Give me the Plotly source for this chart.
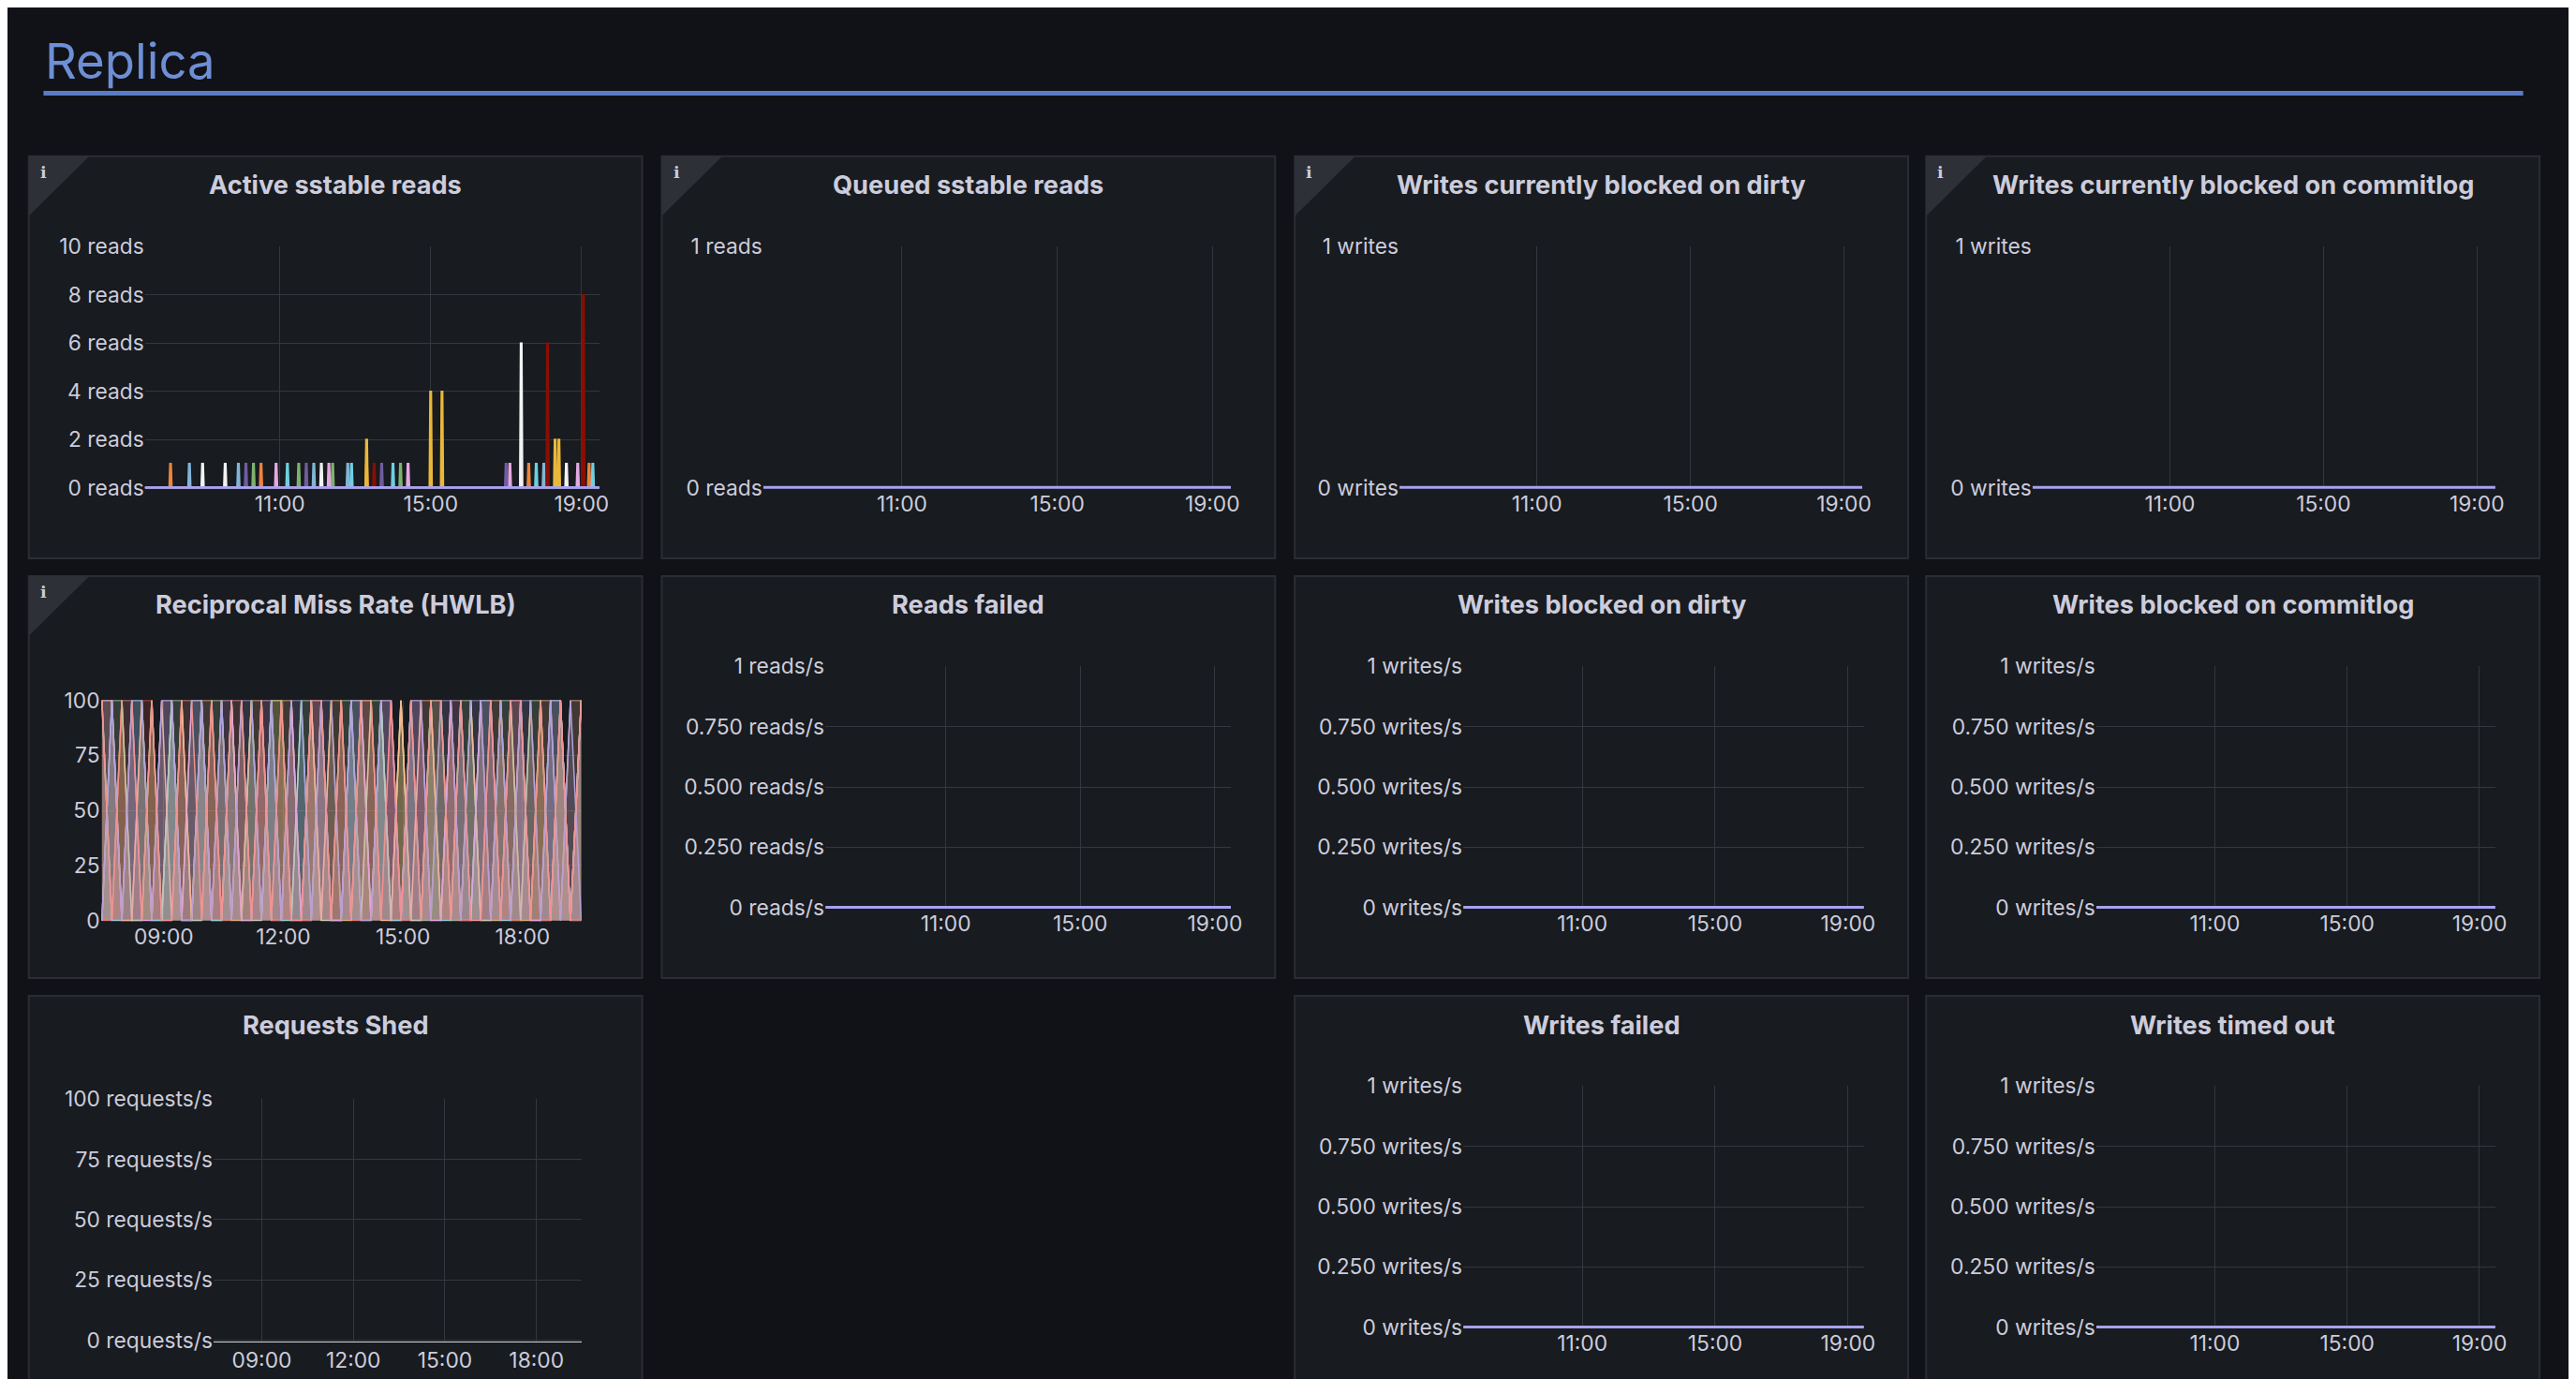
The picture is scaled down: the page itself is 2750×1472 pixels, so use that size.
import plotly.graph_objects as go

# reference layout was read on a 1568 x 839 view, so positions are fractions of that
W, H = 2750, 1472
VW, VH = 1568.0, 839.0
FS = W / VW

BG = "#111217"
PANEL = "#181b1f"
BORDER = "#2a2d33"
GRID = "#34373d"
TXT = "#ccccdc"
FLAT = "#a7a2f0"

T0, T1 = 7.42, 19.48  # hours shown on every panel

# --- data ---
active_series = [
    # (colour, spike times in hours, spike heights)
    ("#EF843C", [8.1, 10.5, 13.3, 17.6, 19.2], [1, 1, 1, 1, 1]),
    ("#82B5D8", [8.6, 9.9, 11.9, 12.8, 18.0], [1, 1, 1, 1, 1]),
    ("#F2F2F2", [8.95, 9.55, 12.1, 17.4, 18.6], [1, 1, 1, 6, 1]),
    ("#EAB839", [13.3, 15.0, 15.3, 18.3, 18.4], [2, 4, 4, 2, 2]),
    ("#890F02", [13.5, 18.1, 19.05], [1, 6, 8]),
    ("#7EB26D", [10.3, 11.5, 12.4, 14.2], [1, 1, 1, 1]),
    ("#E5A8E2", [10.9, 12.3, 14.4, 17.1, 18.9], [1, 1, 1, 1, 1]),
    ("#6ED0E0", [11.2, 12.9, 14.0, 17.8, 19.3], [1, 1, 1, 1, 1]),
    ("#705DA0", [10.1, 11.7, 13.7, 17.0], [1, 1, 1, 1]),
]

miss_times = [7.45, 7.7, 7.95, 8.2, 8.45, 8.7, 8.95, 9.2, 9.45, 9.7, 9.95, 10.2, 10.45,
              10.7, 10.95, 11.2, 11.45, 11.7, 11.95, 12.2, 12.45, 12.7, 12.95, 13.2,
              13.45, 13.7, 13.95, 14.2, 14.45, 14.7, 14.95, 15.2, 15.45, 15.7, 15.95,
              16.2, 16.45, 16.7, 16.95, 17.2, 17.45, 17.7, 17.95, 18.2, 18.45, 18.7,
              18.95, 19.2, 19.47]
miss_series = [
    ("#EAB839", [100, 0, 100, 0, 0, 100, 0, 100, 0, 0, 100, 0, 100, 0, 0, 100, 0, 100, 100, 0, 0, 100, 0, 100, 0, 0, 100, 0, 100, 0, 100, 0, 0, 100, 0, 100, 0, 0, 100, 0, 0, 100, 0, 0, 100, 0, 100, 0, 100]),
    ("#7EB26D", [0, 100, 0, 0, 100, 0, 0, 100, 0, 0, 100, 0, 0, 100, 0, 0, 100, 0, 0, 100, 0, 0, 100, 0, 0, 100, 0, 0, 100, 0, 0, 100, 0, 0, 100, 0, 0, 100, 0, 0, 100, 0, 0, 100, 0, 0, 100, 0, 0]),
    ("#E24D42", [0, 0, 100, 0, 100, 100, 0, 0, 100, 0, 0, 100, 0, 0, 100, 0, 100, 0, 0, 100, 0, 0, 100, 0, 100, 0, 0, 100, 0, 100, 0, 0, 100, 0, 0, 100, 0, 0, 100, 0, 100, 0, 0, 100, 0, 0, 100, 0, 0]),
    ("#70DBED", [100, 0, 0, 100, 100, 0, 0, 100, 0, 100, 100, 0, 0, 100, 0, 100, 0, 100, 0, 0, 100, 0, 100, 0, 0, 100, 100, 0, 100, 0, 0, 100, 0, 100, 0, 0, 100, 0, 100, 100, 0, 0, 100, 0, 0, 100, 100, 0, 100]),
    ("#B7DBAB", [0, 100, 100, 0, 0, 100, 0, 100, 100, 0, 0, 100, 100, 0, 100, 0, 0, 100, 100, 0, 100, 100, 0, 0, 100, 100, 0, 100, 100, 0, 100, 0, 0, 100, 100, 0, 100, 100, 0, 0, 100, 100, 0, 100, 100, 0, 100, 0, 100]),
    ("#F9BA8F", [100, 100, 0, 0, 100, 0, 100, 0, 100, 0, 100, 100, 0, 100, 0, 100, 100, 0, 100, 100, 0, 100, 0, 100, 100, 0, 100, 100, 0, 0, 100, 0, 100, 100, 0, 100, 0, 100, 0, 100, 100, 0, 100, 0, 100, 100, 0, 100, 100]),
    ("#E5A8E2", [100, 100, 0, 100, 0, 0, 100, 100, 0, 100, 100, 0, 100, 100, 0, 0, 100, 100, 0, 100, 0, 100, 100, 0, 0, 100, 100, 0, 100, 100, 0, 100, 100, 0, 0, 100, 100, 0, 100, 100, 0, 100, 100, 0, 0, 100, 100, 0, 100]),
    ("#AEA2E0", [0, 100, 0, 100, 100, 0, 100, 100, 0, 0, 100, 0, 100, 0, 100, 100, 0, 100, 0, 100, 100, 0, 100, 100, 0, 100, 0, 0, 100, 100, 0, 100, 100, 0, 100, 100, 0, 100, 100, 0, 100, 0, 100, 100, 0, 100, 0, 100, 0]),
    ("#F29191", [100, 0, 100, 100, 0, 100, 0, 0, 100, 100, 0, 100, 0, 100, 100, 0, 100, 0, 100, 0, 0, 100, 100, 0, 100, 0, 100, 100, 0, 100, 0, 100, 0, 100, 100, 0, 100, 0, 0, 100, 0, 100, 100, 0, 100, 0, 100, 0, 100]),
]

ticks_4h = [11, 15, 19]
ticks_4h_text = ["11:00", "15:00", "19:00"]
ticks_3h = [9, 12, 15, 18]
ticks_3h_text = ["09:00", "12:00", "15:00", "18:00"]

# panels: title, panel box (x0,y0,x1,y1), plot box, y ticks, y labels, x ticks, info corner
panels = [
    ("Active sstable reads", (13, 84, 388, 333), (84, 140, 362, 290),
     [0, 2, 4, 6, 8, 10], ["0 reads", "2 reads", "4 reads", "6 reads", "8 reads", "10 reads"], "4h", True),
    ("Queued sstable reads", (400, 84, 775, 333), (462, 140, 748, 290),
     [0, 1], ["0 reads", "1 reads"], "4h", True),
    ("Writes currently blocked on dirty", (787, 84, 1162, 333), (851, 140, 1134, 290),
     [0, 1], ["0 writes", "1 writes"], "4h", True),
    ("Writes currently blocked on commitlog", (1173, 84, 1548, 333), (1238, 140, 1521, 290),
     [0, 1], ["0 writes", "1 writes"], "4h", True),
    ("Reciprocal Miss Rate (HWLB)", (13, 344, 388, 593), (57, 421, 351, 558),
     [0, 25, 50, 75, 100], ["0", "25", "50", "75", "100"], "3h", True),
    ("Reads failed", (400, 344, 775, 593), (500, 400, 748, 550),
     [0, 0.25, 0.5, 0.75, 1], ["0 reads/s", "0.250 reads/s", "0.500 reads/s", "0.750 reads/s", "1 reads/s"], "4h", False),
    ("Writes blocked on dirty", (787, 344, 1162, 593), (890, 400, 1135, 550),
     [0, 0.25, 0.5, 0.75, 1], ["0 writes/s", "0.250 writes/s", "0.500 writes/s", "0.750 writes/s", "1 writes/s"], "4h", False),
    ("Writes blocked on commitlog", (1173, 344, 1548, 593), (1277, 400, 1521, 550),
     [0, 0.25, 0.5, 0.75, 1], ["0 writes/s", "0.250 writes/s", "0.500 writes/s", "0.750 writes/s", "1 writes/s"], "4h", False),
    ("Requests Shed", (13, 604, 388, 860), (126, 668, 351, 818),
     [0, 25, 50, 75, 100], ["0 requests/s", "25 requests/s", "50 requests/s", "75 requests/s", "100 requests/s"], "3h", False),
    ("Writes failed", (787, 604, 1162, 860), (890, 660, 1135, 810),
     [0, 0.25, 0.5, 0.75, 1], ["0 writes/s", "0.250 writes/s", "0.500 writes/s", "0.750 writes/s", "1 writes/s"], "4h", False),
    ("Writes timed out", (1173, 604, 1548, 860), (1277, 660, 1521, 810),
     [0, 0.25, 0.5, 0.75, 1], ["0 writes/s", "0.250 writes/s", "0.500 writes/s", "0.750 writes/s", "1 writes/s"], "4h", False),
]


def fx(x):
    return x / VW


def fy(y):
    return 1 - y / VH


def rgba(hexcol, a):
    h = hexcol.lstrip("#")
    return f"rgba({int(h[0:2], 16)},{int(h[2:4], 16)},{int(h[4:6], 16)},{a})"


fig = go.Figure()
shapes = []
annotations = []
layout_axes = {}

# header
annotations.append(dict(x=fx(22), y=fy(25), xref="paper", yref="paper", text="Replica",
                        showarrow=False, xanchor="left", yanchor="middle",
                        font=dict(size=30 * FS, color="#6e8fd6", family="Inter")))
shapes.append(dict(type="line", xref="paper", yref="paper", x0=fx(22), x1=fx(1538),
                   y0=fy(45), y1=fy(45), line=dict(color="#5a7cc4", width=5)))

for i, (title, box, plot, yt, ytext, tick, info) in enumerate(panels):
    n = "" if i == 0 else str(i + 1)
    x0, y0, x1, y1 = box
    shapes.append(dict(type="rect", xref="paper", yref="paper", x0=fx(x0), x1=fx(x1),
                       y0=fy(y1), y1=fy(y0), fillcolor=PANEL, line=dict(color=BORDER, width=2),
                       layer="below"))
    if info:
        shapes.append(dict(type="path", xref="paper", yref="paper",
                           path=f"M {fx(x0)},{fy(y0)} L {fx(x0 + 37)},{fy(y0)} L {fx(x0)},{fy(y0 + 37)} Z",
                           fillcolor="#2d3036", line=dict(width=0), layer="below"))
        annotations.append(dict(x=fx(x0 + 9), y=fy(y0 + 10), xref="paper", yref="paper", text="<b>i</b>",
                                showarrow=False, xanchor="center", yanchor="middle",
                                font=dict(size=10 * FS, color=TXT, family="DejaVu Serif")))
    annotations.append(dict(x=fx((x0 + x1) / 2), y=fy(y0 + 18), xref="paper", yref="paper",
                            text=f"<b>{title}</b>", showarrow=False, xanchor="center", yanchor="middle",
                            font=dict(size=15.5 * FS, color=TXT, family="Inter")))

    px0, py0, px1, py1 = plot
    tv, tt = (ticks_4h, ticks_4h_text) if tick == "4h" else (ticks_3h, ticks_3h_text)
    span = yt[-1] - yt[0]
    layout_axes["xaxis" + n] = dict(domain=[fx(px0), fx(px1)], range=[T0, T1], anchor="y" + n,
                                    tickvals=tv, ticktext=tt, showgrid=True, gridcolor=GRID,
                                    zeroline=False, showline=False, ticks="",
                                    tickfont=dict(size=13 * FS, color=TXT), fixedrange=True)
    layout_axes["yaxis" + n] = dict(domain=[fy(py1), fy(py0)], range=[yt[0] - span * 0.005, yt[-1]],
                                    anchor="x" + n, tickvals=yt, ticktext=ytext, showgrid=True,
                                    gridcolor=GRID, zeroline=False, showline=False, ticks="",
                                    tickfont=dict(size=13 * FS, color=TXT), fixedrange=True)

    if title == "Active sstable reads":
        for col, times, heights in active_series:
            xs, ys = [T0], [0]
            for t, h in zip(times, heights):
                xs += [t - 0.04, t - 0.02, t + 0.02, t + 0.04]
                ys += [0, h, h, 0]
            xs.append(T1)
            ys.append(0)
            fig.add_trace(go.Scatter(x=xs, y=ys, mode="lines", fill="tozeroy", fillcolor=col,
                                     line=dict(color=col, width=1.5), xaxis="x" + n, yaxis="y" + n))
        fig.add_trace(go.Scatter(x=[T0, T1], y=[0, 0], mode="lines", line=dict(color=FLAT, width=3),
                                 xaxis="x" + n, yaxis="y" + n))
    elif title.startswith("Reciprocal"):
        for col, vals in miss_series:
            fig.add_trace(go.Scatter(x=miss_times, y=vals, mode="lines", fill="tozeroy",
                                     fillcolor=rgba(col, 0.18), line=dict(color=col, width=1.5),
                                     xaxis="x" + n, yaxis="y" + n))
    elif title == "Requests Shed":
        layout_axes["xaxis" + n]["showline"] = True
        layout_axes["xaxis" + n]["linecolor"] = "#d8d9da"
        # no data in this panel, an empty trace keeps the axes drawn
        fig.add_trace(go.Scatter(x=[], y=[], mode="lines", xaxis="x" + n, yaxis="y" + n))
    else:
        fig.add_trace(go.Scatter(x=[T0, T1], y=[0, 0], mode="lines", line=dict(color=FLAT, width=3.5),
                                 xaxis="x" + n, yaxis="y" + n))

fig.update_layout(width=W, height=H, margin=dict(l=0, r=0, t=0, b=0),
                  paper_bgcolor=BG, plot_bgcolor="rgba(0,0,0,0)", showlegend=False,
                  shapes=shapes, annotations=annotations, hovermode=False,
                  font=dict(family="Inter", color=TXT), **layout_axes)

fig.write_html("out.html")
